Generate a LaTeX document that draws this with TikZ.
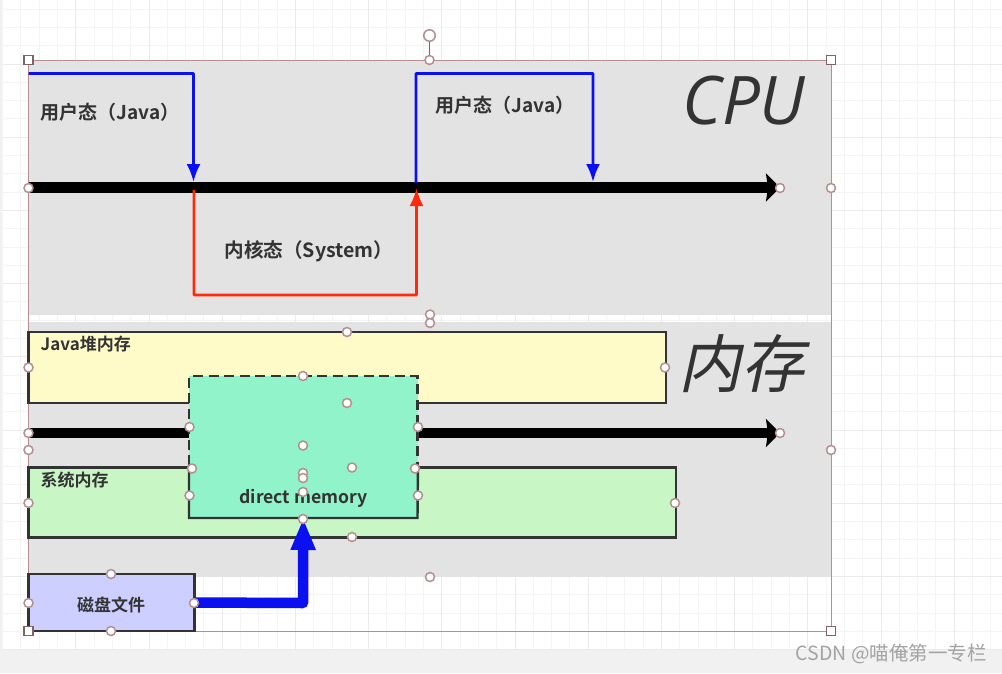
\documentclass[tikz,border=0pt]{standalone}
\usepackage{fontspec}
\usetikzlibrary{arrows.meta}
\setmainfont{Noto Sans CJK SC}
\newfontfamily\cjkbold{Noto Sans CJK SC}[BoldFont={* Bold}]
\newfontfamily\cjkslant{Noto Sans CJK SC}[FakeSlant=0.22]
\newfontfamily\cpufont{Open Sans}
\definecolor{ink}{HTML}{333333}
\definecolor{panel}{HTML}{E4E3E4}
\definecolor{sel}{HTML}{B58F90}
\definecolor{gridminor}{HTML}{F5F4F5}
\definecolor{gridmajor}{HTML}{ECEBEC}
\definecolor{yellowbox}{HTML}{FFFBC8}
\definecolor{greenbox}{HTML}{C8F7C5}
\definecolor{tealbox}{HTML}{90F3C9}
\definecolor{bluebox}{HTML}{CCCFFF}
\definecolor{bluearrow}{HTML}{0A10F0}
\definecolor{redarrow}{HTML}{FF2A0A}
\definecolor{pagegray}{HTML}{F1F1F1}
\tikzset{
  box/.style={draw=ink,line width=2.4pt,inner sep=0pt,outer sep=0pt,rectangle},
  panelbox/.style={fill=panel,inner sep=0pt,outer sep=0pt,rectangle},
  handle/.style={circle,draw=sel,fill=white,line width=1.5pt,minimum size=9pt,inner sep=0pt},
  corner/.style={rectangle,draw=sel!70!black,fill=white,line width=1.3pt,minimum size=9pt,inner sep=0pt},
  lbl/.style={font=\cjkbold\bfseries\fontsize{19}{22}\selectfont,text=ink,inner sep=0pt},
  small/.style={font=\cjkbold\bfseries\fontsize{17}{20}\selectfont,text=ink,inner sep=0pt},
  timeline/.style={line width=10.5pt,black,-{Stealth[length=14pt,width=28pt,inset=2pt]}},
  state/.style={line width=2.8pt,-{Latex[length=18pt,width=14pt]},rounded corners=0.5pt},
}
\begin{document}
\begin{tikzpicture}[x=1pt,y=-1pt]
\useasboundingbox (0,0) rectangle (1002,673);
\fill[pagegray] (0,0) rectangle (1002,673);
\fill[white] (3,0) rectangle (1002,650);
% grid
\foreach \k in {0,...,54} {\draw[gridminor,line width=1pt] ({2.6+18.3*\k},0) -- ({2.6+18.3*\k},650);}
\foreach \k in {1,...,36} {\draw[gridminor,line width=1pt] (3,{-9.2+18.3*\k}) -- (1002,{-9.2+18.3*\k});}
\foreach \k in {1,...,13} {\draw[gridmajor,line width=1pt] ({2.6+73.2*\k},0) -- ({2.6+73.2*\k},650);}
\foreach \k in {1,...,9} {\draw[gridmajor,line width=1pt] (3,{-9.2+73.2*\k}) -- (1002,{-9.2+73.2*\k});}
% panels
\node[panelbox,minimum width=802.5pt,minimum height=255pt] (cpupanel) at (429.75,187.5) {};
\node[panelbox,minimum width=802.5pt,minimum height=255pt] (mempanel) at (429.75,449.5) {};
% selection outline
\draw[sel,line width=0.9pt] (28.5,60) rectangle (831,631);
% timelines
\coordinate (t1a) at (28.5,187.5); \coordinate (t1b) at (780,187.5);
\coordinate (t2a) at (28.5,433); \coordinate (t2b) at (780,433);
\draw[timeline] (t1a) -- (t1b);
\draw[timeline] (t2a) -- (t2b);
% state arrows
\coordinate (u1s) at (28.5,73.5); \coordinate (u1c) at (193.5,73.5); \coordinate (u1e) at (193.5,182);
\coordinate (ks) at (194,190); \coordinate (k1) at (194,295); \coordinate (k2) at (416.5,295); \coordinate (ke) at (416.5,188);
\coordinate (u2s) at (416,183); \coordinate (u2a) at (416,73.5); \coordinate (u2b) at (593,73.5); \coordinate (u2e) at (593,182);
\draw[state,bluearrow] (u1s) -- (u1c) -- (u1e);
\draw[state,bluearrow] (u2s) -- (u2a) -- (u2b) -- (u2e);
\draw[state,redarrow] (ks) -- (k1) -- (k2) -- (ke);
% state labels
\node[lbl] (l1) at (110,112) {用户态（Java）};
\node[lbl] (l2) at (505,105) {用户态（Java）};
\node[lbl,font=\cjkbold\bfseries\fontsize{19.6}{22}\selectfont] (l3) at (309,251) {内核态（System）};
\node[font=\cpufont\itshape\fontsize{67}{72}\selectfont,text=ink,inner sep=0pt] (cpu) at (744,101) {CPU};
\node[font=\cjkslant\fontsize{63}{70}\selectfont,text=ink,inner sep=0pt] (mem) at (741.5,364) {内存};
% memory boxes
\node[box,fill=yellowbox,minimum width=637.5pt,minimum height=71pt] (heap) at (347.25,367.5) {};
\node[small,anchor=west] at (40.5,344) (heapl) {Java堆内存};
\node[box,fill=greenbox,minimum width=647.5pt,minimum height=70pt] (sys) at (352.25,502.5) {};
\node[small,anchor=west] at (40.5,480) (sysl) {系统内存};
\node[fill=tealbox,inner sep=0pt,outer sep=0pt,minimum width=228.5pt,minimum height=142pt] (direct) at (303.25,447) {};
\draw[ink,line width=2.4pt,dash pattern=on 10pt off 5.5pt] (direct.south west) ++(0,-53) -- (direct.north west) -- (direct.north east) -- ++(0,89);
\draw[ink,line width=2.4pt] (189,465) -- (direct.south west) -- (direct.south east) -- (418,465);
\node[lbl,font=\cjkbold\bfseries\fontsize{17.6}{20}\selectfont] (dl) at (303.5,498) {direct memory};
\node[box,fill=bluebox,minimum width=166pt,minimum height=57pt] (disk) at (111.5,602.5) {};
\node[small] (diskl) at (111,604.5) {磁盘文件};
\coordinate (bend) at (303,603);
\draw[bluearrow,line width=10.5pt,line join=round,-{Triangle[length=32pt,width=23pt]}] (disk.east) -- (bend) -- (direct.south);
% watermark
\node[font=\fontsize{19.5}{22}\selectfont,text=black!36,inner sep=0pt,anchor=east] (wm) at (987,654) {CSDN @喵俺第一专栏};
% rotation handle
\node[handle,minimum size=11.5pt] (rot) at (429.5,35.5) {};
\node[handle] (top) at (429.5,60) {};
\draw[sel!70!black,line width=1pt] (rot) -- (top);
% corner handles
\node[corner] (c1) at (28.5,60) {};
\node[corner] (c2) at (831,60) {};
\node[corner] (c3) at (28.5,631) {};
\node[corner] (c4) at (831,631) {};
% circle handles
\foreach \n/\x/\y in {a/831/188,b/28.5/188,c/780/188,d/430/314.5,e/430/323,f/347/332,g/28.5/367.5,h/665/367.5,i/303/376,j/347/403,k/303/445.5,m/189.5/427,n/418/427,o/28.5/433,p/780/433,q/28.5/450,r/831/450,s/192/468.5,t/415/468.5,u/352/467.5,v/303/473,w/303/478,x/303/492,y/189.5/495.5,z/418/495.5,A/303/519,B/352/537,C/28.5/503,D/675/503,E/430/577,F/111/574,G/28.5/603,H/194/603,I/111/631}
  {\node[handle] (h\n) at (\x,\y) {};}
\end{tikzpicture}
\end{document}
